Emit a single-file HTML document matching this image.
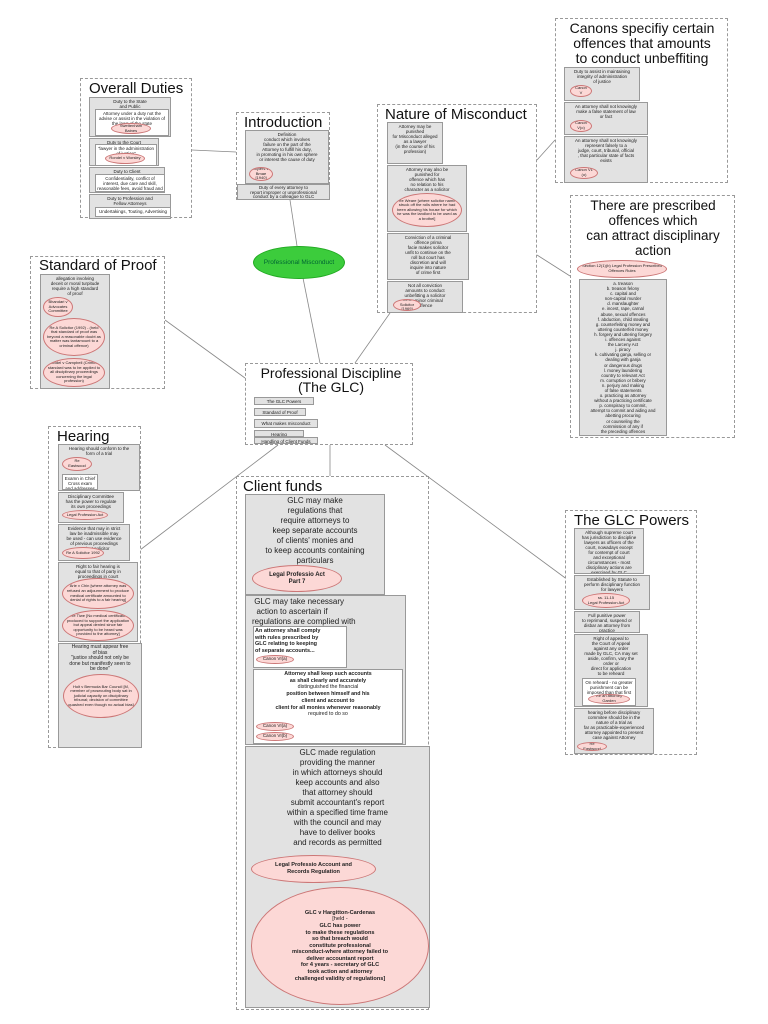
<!DOCTYPE html>
<html><head><meta charset="utf-8">
<style>
*{box-sizing:border-box;margin:0;padding:0}
body{width:768px;height:1024px;background:#fff;position:relative;overflow:hidden;font-family:"Liberation Sans",sans-serif;color:#222}
.b{position:absolute;background:#fff;border:1px dashed #999}
.t{position:absolute;font-size:15px;line-height:16px;color:#111;white-space:nowrap}
.g{position:absolute;background:#e2e2e2;border:1px solid #999;font-size:4.5px;line-height:5px;text-align:center;padding:1px 1px;overflow:hidden}
.w{position:absolute;background:#fff;border:1px solid #999;font-size:4.5px;line-height:5px;text-align:center;padding:1px;overflow:hidden}
.e{position:absolute;background:#fcd8d6;border:1px solid #c77;border-radius:50%;font-size:4px;line-height:4.6px;text-align:center;display:flex;align-items:center;justify-content:center;overflow:hidden;padding:1px 3px}
.e>div{width:100%}
svg{position:absolute;left:0;top:0}
</style></head><body>
<svg width="768" height="1024"><g stroke="#888" stroke-width="0.8" fill="none">
<line x1="192" y1="150" x2="236" y2="152"/>
<line x1="290" y1="200" x2="297" y2="246"/>
<line x1="303" y1="278" x2="320" y2="363"/>
<line x1="165" y1="320" x2="245" y2="378"/>
<line x1="355" y1="363" x2="390" y2="313"/>
<line x1="537" y1="160" x2="555" y2="140"/>
<line x1="537" y1="255" x2="570" y2="276"/>
<line x1="278" y1="445" x2="140" y2="550"/>
<line x1="330" y1="445" x2="330" y2="476"/>
<line x1="385" y1="445" x2="568" y2="580"/>
</g></svg>

<!-- Overall Duties -->
<div class="b" style="left:80px;top:78px;width:112px;height:140px">
<div class="t" style="left:8px;top:2px">Overall Duties</div>
<div class="g" style="left:8px;top:18px;width:82px;height:40px">Duty to the State<br>and Public</div>
<div class="w" style="left:14px;top:30px;width:74px;height:27px">Attorney under a duty not the advise or assist in the violation of the laws of the state</div>
<div class="e" style="left:30px;top:44px;width:40px;height:11px"><div>Swettenham Baines</div></div>
<div class="g" style="left:8px;top:59px;width:70px;height:28px">Duty to the Court</div>
<div class="w" style="left:14px;top:65px;width:62px;height:22px">"lawyer in the administration of justice"</div>
<div class="e" style="left:24px;top:74px;width:40px;height:11px"><div>Rondel v Worsley</div></div>
<div class="g" style="left:8px;top:88px;width:76px;height:26px">Duty to Client</div>
<div class="w" style="left:14px;top:95px;width:70px;height:18px">Confidentiality, conflict of interest, due care and skill, reasonable fees, avoid fraud and misappropriating of client funds</div>
<div class="g" style="left:8px;top:115px;width:82px;height:25px">Duty to Profession and<br>Fellow Attorneys</div>
<div class="w" style="left:14px;top:128px;width:76px;height:10px">Undertakings, Touting, Advertising</div>
</div>

<!-- Introduction -->
<div class="b" style="left:236px;top:112px;width:94px;height:88px">
<div class="t" style="left:7px;top:2px">Introduction</div>
<div class="g" style="left:8px;top:17px;width:84px;height:54px">Definition<br>conduct which involves<br>failure on the part of the<br>Attorney to fulfill his duty,<br>in promoting in his own sphere<br>or interest the cause of duty</div>
<div class="e" style="left:12px;top:54px;width:24px;height:14px"><div>Mylers v Bmae [1940]</div></div>
<div class="g" style="left:0;top:71px;width:93px;height:16px;line-height:4.6px">Duty of every attorney to<br>report improper or unprofessional<br>conduct by a colleague to GLC</div>
</div>

<div class="e" style="left:253px;top:246px;width:92px;height:33px;background:#3ccc3c;border-color:#2a2;font-size:6.5px;line-height:7px;color:#063"><div>Professional Misconduct</div></div>

<!-- Nature of Misconduct -->
<div class="b" style="left:377px;top:104px;width:160px;height:209px">
<div class="t" style="left:7px;top:2px">Nature of Misconduct</div>
<div class="g" style="left:9px;top:17px;width:56px;height:42px">Attorney may be<br>punished<br>for Misconduct alleged<br>as a lawyer<br>(in the course of his<br>profession)</div>
<div class="g" style="left:9px;top:60px;width:80px;height:67px">Attorney may also be<br>punished for<br>offence which has<br>no relation to his<br>character as a solicitor</div>
<div class="e" style="left:14px;top:88px;width:70px;height:34px"><div>Re Weare [where solicitor name struck off the rolls where he had been allowing his house for which he was the landlord to be used as a brothel]</div></div>
<div class="g" style="left:9px;top:128px;width:82px;height:47px">Conviction of a criminal<br>offence prima<br>facie makes solicitor<br>unfit to continue on the<br>roll but court has<br>discretion and will<br>inquire into nature<br>of crime first</div>
<div class="g" style="left:9px;top:176px;width:76px;height:32px">Not all conviction<br>amounts to conduct<br>unbefitting a solicitor<br>e.g minor criminal<br>offence</div>
<div class="e" style="left:15px;top:194px;width:28px;height:12px"><div>Re A Solicitor [1969]</div></div>
</div>

<!-- Canons -->
<div class="b" style="left:555px;top:18px;width:173px;height:165px">
<div class="t" style="left:4px;top:2px;font-size:14px;line-height:15px;text-align:center;width:164px">Canons specifiy certain<br>offences that amounts<br>to conduct unbeffiting</div>
<div class="g" style="left:8px;top:48px;width:76px;height:34px">Duty to assist in maintaining<br>integrity of administration<br>of justice</div>
<div class="e" style="left:14px;top:66px;width:22px;height:12px"><div>Canon V</div></div>
<div class="g" style="left:8px;top:83px;width:84px;height:33px">An attorney shall not knowingly<br>make a false statement of law<br>or fact</div>
<div class="e" style="left:14px;top:101px;width:22px;height:12px"><div>Canon V(o)</div></div>
<div class="g" style="left:8px;top:117px;width:84px;height:47px">An attorney shall not knowingly<br>represent falsely to a<br>judge, court, tribunal, official<br>, that particular state of facts<br>exists</div>
<div class="e" style="left:14px;top:148px;width:28px;height:12px"><div>Canon V1 (o)</div></div>
</div>

<!-- Prescribed -->
<div class="b" style="left:570px;top:195px;width:165px;height:243px">
<div class="t" style="left:2px;top:2px;font-size:13.5px;line-height:15px;text-align:center;width:160px">There are prescribed<br>offences which<br>can attract disciplinary<br>action</div>
<div class="e" style="left:6px;top:64px;width:90px;height:18px"><div>Section 12(1)(b) Legal Profession Prescribed Offences Rules</div></div>
<div class="g" style="left:8px;top:83px;width:88px;height:157px;font-size:4.4px;line-height:5.1px">a. treason<br>b. treason felony<br>c. capital and<br>non-capital murder<br>d. manslaughter<br>e. incest, rape, carnal<br>abuse, sexual offences<br>f. abduction, child stealing<br>g. counterfeiting money and<br>uttering counterfeit money<br>h. forgery and uttering forgery<br>i. offences against<br>the Larceny Act<br>j. piracy<br>k. cultivating ganja, selling or<br>dealing with ganja<br>or dangerous drugs<br>l. money laundering<br>country to relevant Act<br>m. corruption or bribery<br>n. perjury and making<br>of false statements<br>o. practicing as attorney<br>without a practicing certificate<br>p. conspiracy to commit,<br>attempt to commit and aiding and<br>abetting procuring<br>or counseling the<br>commission of any if<br>the preceding offences</div>
</div>

<!-- Standard of Proof -->
<div class="b" style="left:30px;top:256px;width:135px;height:133px">
<div class="t" style="left:8px;top:1px">Standard of Proof</div>
<div class="g" style="left:9px;top:17px;width:70px;height:115px">allegation involving<br>deceit or moral turpitude<br>require a high standard<br>of proof</div>
<div class="e" style="left:12px;top:40px;width:30px;height:20px"><div>Bhandari v Advocates Committee</div></div>
<div class="e" style="left:12px;top:61px;width:62px;height:38px"><div>Re A Solicitor (1992) - (held that standard of proof was beyond a reasonable doubt as matter was tantamount to a criminal offence)</div></div>
<div class="e" style="left:12px;top:101px;width:62px;height:29px"><div>Hondel v Campbell (Criminal standard was to be applied to all disciplinary proceedings concerning the legal profession)</div></div>
</div>

<!-- Professional Discipline -->
<div class="b" style="left:245px;top:363px;width:168px;height:82px">
<div class="t" style="left:4px;top:2px;text-align:center;width:162px;font-size:14px;line-height:14px">Professional Discipline<br>(The GLC)</div>
<div class="g" style="left:8px;top:33px;width:60px;height:8px">The GLC Powers</div>
<div class="g" style="left:8px;top:44px;width:52px;height:8px">Standard of Proof</div>
<div class="g" style="left:8px;top:55px;width:64px;height:9px">What makes misconduct</div>
<div class="g" style="left:8px;top:66px;width:50px;height:7px">Hearing</div>
<div class="g" style="left:8px;top:73px;width:64px;height:7px">Handling of Client Funds</div>
</div>

<!-- Hearing -->
<div class="b" style="left:48px;top:426px;width:93px;height:322px">
<div class="t" style="left:8px;top:2px">Hearing</div>
<div class="g" style="left:9px;top:17px;width:82px;height:47px">Hearing should conform to the<br>form of a trial</div>
<div class="e" style="left:13px;top:30px;width:30px;height:14px"><div>Re Eastwood</div></div>
<div class="w" style="left:13px;top:47px;width:36px;height:16px">Examn in Chief Cross exam and addresses at the end of the hearing</div>
<div class="g" style="left:9px;top:65px;width:66px;height:31px">Disciplinary Committee<br>has the power to regulate<br>its own proceedings</div>
<div class="e" style="left:13px;top:83px;width:46px;height:10px"><div>Legal Profession Act</div></div>
<div class="g" style="left:9px;top:97px;width:72px;height:37px">Evidence that may in strict<br>law be inadmissible may<br>be used - can use evidence<br>of previous proceedings<br>against solicitor</div>
<div class="e" style="left:13px;top:120px;width:42px;height:12px"><div>Re A Solicitor 1992</div></div>
<div class="g" style="left:9px;top:135px;width:80px;height:80px">Right to fair hearing is<br>equal to that of party in<br>proceedings in court</div>
<div class="e" style="left:13px;top:151px;width:72px;height:31px"><div>Arie v Chin [where attorney was refused an adjournment to produce medical certificate amounted to denial of rights to a fair hearing]</div></div>
<div class="e" style="left:13px;top:183px;width:72px;height:31px"><div>Re Tiwe [No medical certificate produced to support the application but appeal denied since fair opportunity to be heard was provided to the attorney]</div></div>
<div class="g" style="left:9px;top:216px;width:84px;height:105px;font-size:5px;line-height:5.5px">Hearing must appear free<br>of bias<br>"justice should not only be<br>done but manifestly seen to<br>be done"</div>
<div class="e" style="left:14px;top:247px;width:76px;height:44px"><div>Holt v Bermuda Bar Council [M, member of prosecuting body sat in judicial capacity on disciplinary tribunal; decision of committee quashed even though no actual bias]</div></div>
</div>

<!-- Client funds -->
<div class="b" style="left:236px;top:476px;width:193px;height:534px">
<div class="t" style="left:6px;top:2px">Client funds</div>
<div class="g" style="left:8px;top:17px;width:140px;height:101px;font-size:8px;line-height:10px">GLC may make<br>regulations that<br>require attorneys to<br>keep separate accounts<br>of clients' monies and<br>to keep accounts containing<br>particulars</div>
<div class="e" style="left:15px;top:88px;width:90px;height:27px;font-size:6px;line-height:7px;font-weight:bold"><div>Legal Professio Act<br>Part 7</div></div>
<div class="g" style="left:8px;top:118px;width:161px;height:150px;font-size:8px;line-height:10px;text-align:left;padding-left:6px">&nbsp;GLC may take necessary<br>&nbsp;&nbsp;action to ascertain if<br>regulations are complied with</div>
<div class="w" style="left:16px;top:149px;width:94px;height:42px;font-size:5.5px;line-height:6.5px;font-weight:bold;text-align:left">An attorney shall comply<br>with rules prescribed by<br>GLC relating to keeping<br>of separate accounts...</div>
<div class="e" style="left:19px;top:178px;width:38px;height:9px;font-size:4.5px"><div>Canon VI(a)</div></div>
<div class="w" style="left:16px;top:192px;width:150px;height:75px;font-size:5.3px;line-height:6.7px;font-weight:bold">Attorney shall keep such accounts<br>as shall clearly and accurately<br><span style="font-weight:normal">distinguished the financial</span><br>position between himself and his<br>client and account to<br>client for all monies whenever reasonably<br><span style="font-weight:normal">required to do so</span></div>
<div class="e" style="left:19px;top:245px;width:38px;height:9px;font-size:4.5px"><div>Canon VI(a)</div></div>
<div class="e" style="left:19px;top:255px;width:38px;height:9px;font-size:4.5px"><div>Canon VI(b)</div></div>
<div class="g" style="left:8px;top:269px;width:185px;height:262px;font-size:8px;line-height:10px">GLC made regulation<br>providing the manner<br>in which attorneys should<br>keep accounts and also<br>that attorney should<br>submit accountant's report<br>within a specified time frame<br>with the council and may<br>have to deliver books<br>and records as permitted</div>
<div class="e" style="left:14px;top:378px;width:125px;height:28px;font-size:5.6px;line-height:7px;font-weight:bold"><div>Legal Professio Account and<br>Records Regulation</div></div>
<div class="e" style="left:14px;top:410px;width:178px;height:118px;font-size:5.6px;line-height:6.6px;font-weight:bold"><div>GLC v Hargitton-Cardenas<br><span style="font-weight:normal">[held -</span><br>GLC has power<br>to make these regulations<br>so that breach would<br>constitute professional<br>misconduct-where attorney failed to<br>deliver accountant report<br>for 4 years - secretary of GLC<br>took action and attorney<br>challenged validity of regulations]</div></div>
</div>

<!-- GLC Powers -->
<div class="b" style="left:565px;top:510px;width:132px;height:245px">
<div class="t" style="left:8px;top:2px">The GLC Powers</div>
<div class="g" style="left:8px;top:17px;width:70px;height:46px">Although supreme court<br>has jurisdiction to discipline<br>lawyers as officers of the<br>court, nowadays except<br>for contempt of court<br>and exceptional<br>circumstances - most<br>disciplinary actions are<br>exercised by GLC</div>
<div class="g" style="left:8px;top:64px;width:76px;height:35px">Established by Statute to<br>perform disciplinary function<br>for lawyers</div>
<div class="e" style="left:16px;top:82px;width:48px;height:15px"><div>ss. 11-15<br>Legal Profession Act</div></div>
<div class="g" style="left:8px;top:100px;width:66px;height:22px">Full punitive power<br>to reprimand, suspend or<br>disbar an attorney from<br>practice</div>
<div class="g" style="left:8px;top:123px;width:74px;height:73px">Right of appeal to<br>the Court of Appeal<br>against any order<br>made by GLC, CA may set<br>aside, confirm, vary the<br>order or<br>direct for application<br>to be reheard</div>
<div class="w" style="left:16px;top:167px;width:54px;height:28px">On reheard - no greater punishment can be imposed than that first ordered</div>
<div class="e" style="left:22px;top:183px;width:42px;height:10px"><div>Re an attorney Garden</div></div>
<div class="g" style="left:8px;top:197px;width:80px;height:46px">hearing before disciplinary<br>commitee should be in the<br>nature of a trial as<br>far as practicable-experienced<br>attorney appointed to present<br>case against Attorney</div>
<div class="e" style="left:11px;top:231px;width:30px;height:9px"><div>Re Eastwood</div></div>
</div>
</body></html>
